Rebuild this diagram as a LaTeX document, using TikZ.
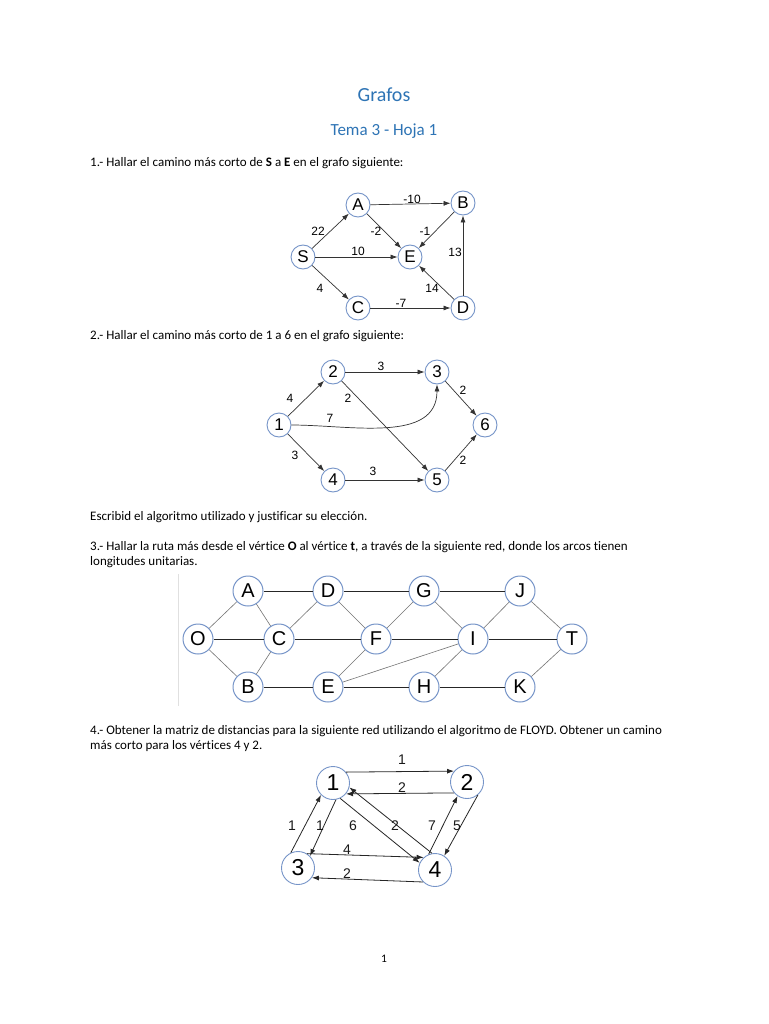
\documentclass[tikz,border=0pt]{standalone}
\usepackage{fontspec}
\setmainfont{Carlito}[Ligatures={NoCommon}]
\newfontfamily\arialf{Liberation Sans}
\usetikzlibrary{arrows.meta}
\definecolor{titleblue}{RGB}{46,116,181}
\definecolor{ringblue}{RGB}{118,148,200}
\begin{document}
\begin{tikzpicture}[x=1pt, y=-1pt,
  every node/.style={inner sep=0pt},
  ptext/.style={anchor=base west, font=\fontsize{13}{15}\selectfont},
  vtx/.style={circle, draw=ringblue, fill=white, line width=0.9pt,
    minimum size=24pt, font=\arialf\fontsize{17}{17}\selectfont},
  vtxbig/.style={vtx, line width=1pt, minimum size=30pt, font=\arialf\fontsize{20}{20}\selectfont},
  vtxfl/.style={vtx, minimum size=33pt, font=\arialf\fontsize{23}{23}\selectfont},
  arc/.style={-{Latex[length=7pt, width=5pt]}, draw=black!80, line width=0.7pt},
  arcfl/.style={arc, draw=black!85, line width=0.8pt},
  edg/.style={draw=black!55, line width=0.6pt},
  edgh/.style={draw=black!85, line width=1pt},
  lbl/.style={font=\arialf\fontsize{12}{12}\selectfont, text=black},
  lblfl/.style={font=\arialf\fontsize{14}{14}\selectfont, text=black!90}]
\useasboundingbox[fill=white] (0,0) rectangle (768,1024);
%
% ---- Headings and text ----
\node[anchor=base, font=\fontsize{20}{20}\selectfont, text=titleblue] (title) at (384,102) {Grafos};
\node[anchor=base, font=\fontsize{17}{17}\selectfont, text=titleblue] (subtitle) at (384,136) {Tema 3 - Hoja 1};
\node[ptext] (q1) at (90,167) {1.- Hallar el camino más corto de \textbf{S} a \textbf{E} en el grafo siguiente:};
\node[ptext] (q2) at (90,339) {2.- Hallar el camino más corto de 1 a 6 en el grafo siguiente:};
\node[ptext] (q2b) at (90,520) {Escribid el algoritmo utilizado y justificar su elección.};
\node[ptext] (q3) at (90,550) {3.- Hallar la ruta más desde el vértice \textbf{O} al vértice \textbf{t}, a través de la siguiente red, donde los arcos tienen};
\node[ptext] (q3b) at (90,565) {longitudes unitarias.};
\node[ptext] (q4) at (90,734) {4.- Obtener la matriz de distancias para la siguiente red utilizando el algoritmo de FLOYD. Obtener un camino};
\node[ptext] (q4b) at (90,749) {más corto para los vértices 4 y 2.};
\node[anchor=base, font=\fontsize{11.5}{11.5}\selectfont] (pagenum) at (384,962) {1};
%
% ---- Graph 1 ----
\node[vtx] (gA) at (358,205) {A};
\node[vtx] (gB) at (463,203) {B};
\node[vtx] (gS) at (303,257) {S};
\node[vtx] (gE) at (410,257) {E};
\node[vtx] (gC) at (358,308) {C};
\node[vtx] (gD) at (463,308) {D};
\draw[arc] (gS) -- (gA);
\draw[arc] (gA) -- (gB);
\draw[arc] (gA) -- (gE);
\draw[arc] (gB) -- (gE);
\draw[arc] (gS) -- (gE);
\draw[arc] (gS) -- (gC);
\draw[arc] (gC) -- (gD);
\draw[arc] (gD) -- (gE);
\draw[arc] (gD) -- (gB);
\node[lbl] (wSA) at (318,231) {22};
\node[lbl] (wAB) at (412,199) {-10};
\node[lbl] (wAE) at (376,231) {-2};
\node[lbl] (wBE) at (425,231) {-1};
\node[lbl] (wSE) at (358,251) {10};
\node[lbl] (wDB) at (455,252) {13};
\node[lbl] (wSC) at (320,288) {4};
\node[lbl] (wDE) at (432,288) {14};
\node[lbl] (wCD) at (401,303) {-7};
%
% ---- Graph 2 ----
\node[vtx] (h1) at (279,425) {1};
\node[vtx] (h2) at (333,372) {2};
\node[vtx] (h3) at (437,372) {3};
\node[vtx] (h4) at (333,480) {4};
\node[vtx] (h5) at (437,480) {5};
\node[vtx] (h6) at (485,425) {6};
\draw[arc] (h1) -- (h2);
\draw[arc] (h2) -- (h3);
\draw[arc] (h1.east) to[out=0, in=-90] (h3.south);
\draw[arc] (h2) -- (h5);
\draw[arc] (h3) -- (h6);
\draw[arc] (h1) -- (h4);
\draw[arc] (h4) -- (h5);
\draw[arc] (h5) -- (h6);
\node[lbl] (w12) at (290,398) {4};
\node[lbl] (w23) at (381,366) {3};
\node[lbl] (w25) at (348,398) {2};
\node[lbl] (w13) at (330,418) {7};
\node[lbl] (w36) at (463,390) {2};
\node[lbl] (w14) at (295,455) {3};
\node[lbl] (w45) at (373,471) {3};
\node[lbl] (w56) at (463,460) {2};
%
% ---- Graph 3 ----
\draw[black!12, line width=0.6pt] (178,574) -- (178,706);
\node[vtxbig] (nA) at (248,591) {A};
\node[vtxbig] (nD) at (328,591) {D};
\node[vtxbig] (nG) at (424,591) {G};
\node[vtxbig] (nJ) at (520,591) {J};
\node[vtxbig] (nO) at (198,639) {O};
\node[vtxbig] (nC) at (279,639) {C};
\node[vtxbig] (nF) at (376,639) {F};
\node[vtxbig] (nI) at (473,639) {I};
\node[vtxbig] (nT) at (572,639) {T};
\node[vtxbig] (nB) at (248,687) {B};
\node[vtxbig] (nE) at (328,687) {E};
\node[vtxbig] (nH) at (424,687) {H};
\node[vtxbig] (nK) at (520,687) {K};
\draw[edgh] (nA) -- (nD);
\draw[edgh] (nD) -- (nG);
\draw[edgh] (nG) -- (nJ);
\draw[edgh] (nO) -- (nC);
\draw[edgh] (nC) -- (nF);
\draw[edgh] (nF) -- (nI);
\draw[edgh] (nI) -- (nT);
\draw[edgh] (nB) -- (nE);
\draw[edgh] (nE) -- (nH);
\draw[edgh] (nH) -- (nK);
\draw[edg] (nO) -- (nA);
\draw[edg] (nA) -- (nC);
\draw[edg] (nO) -- (nB);
\draw[edg] (nB) -- (nC);
\draw[edg] (nC) -- (nD);
\draw[edg] (nD) -- (nF);
\draw[edg] (nF) -- (nG);
\draw[edg] (nG) -- (nI);
\draw[edg] (nJ) -- (nI);
\draw[edg] (nJ) -- (nT);
\draw[edg] (nE) -- (nF);
\draw[edg] (nE) -- (nI);
\draw[edg] (nH) -- (nI);
\draw[edg] (nK) -- (nT);
%
% ---- Graph 4 ----
\node[vtxfl] (m1) at (333,783) {1};
\node[vtxfl] (m2) at (467,782) {2};
\node[vtxfl] (m3) at (298,868) {3};
\node[vtxfl] (m4) at (435,870) {4};
\draw[arcfl] (m1.40) -- (m2.140);
\draw[arcfl] (m2.220) -- (m1.-40);
\draw[arcfl] (m3.115) -- (m1.225);
\draw[arcfl] (m1.280) -- (m3.45);
\draw[arcfl] (m1.-65) -- (m4.155);
\draw[arcfl] (m4.100) -- (m1.-15);
\draw[arcfl] (m4.112) -- (m2.236);
\draw[arcfl] (m2.-50) -- (m4.57);
\draw[arcfl] (m3.58) -- (m4.132);
\draw[arcfl] (m4.225) -- (m3.-35);
\node[lblfl] (v12) at (402,760) {1};
\node[lblfl] (v21) at (402,788) {2};
\node[lblfl] (v31) at (292,826) {1};
\node[lblfl] (v13) at (320,826) {1};
\node[lblfl] (v14) at (353,826) {6};
\node[lblfl] (v41) at (395,826) {2};
\node[lblfl] (v42) at (432,826) {7};
\node[lblfl] (v24) at (457,826) {5};
\node[lblfl] (v34) at (347,850) {4};
\node[lblfl] (v43) at (347,874) {2};
\end{tikzpicture}
\end{document}
